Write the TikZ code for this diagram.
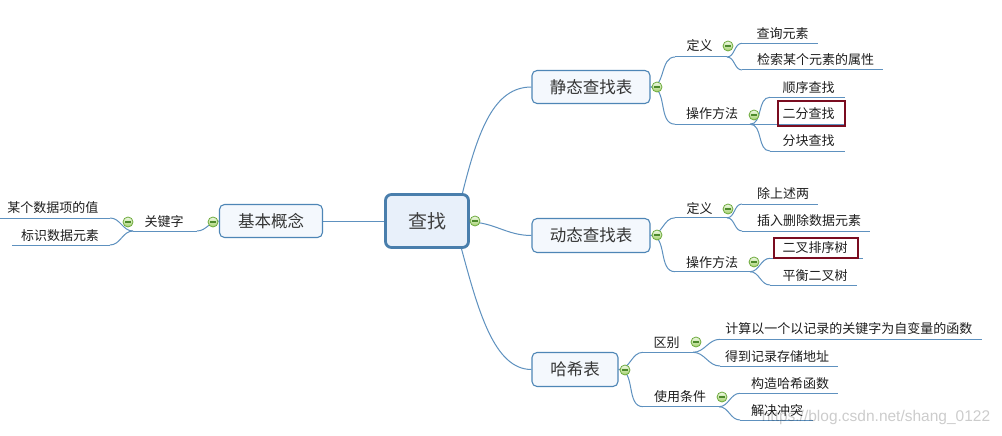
\documentclass[tikz,border=0pt]{standalone}
\usepackage{fontspec}
\setmainfont{Noto Sans CJK SC}
\newfontfamily\wmfont{Liberation Sans}
\usetikzlibrary{backgrounds}
\definecolor{lnc}{HTML}{5E91BF}
\definecolor{bxc}{HTML}{4E86B6}
\definecolor{bxf}{HTML}{F4F8FD}
\definecolor{cbx}{HTML}{497EAC}
\definecolor{cbf}{HTML}{E8F0FA}
\definecolor{grb}{HTML}{6DAA3C}
\definecolor{grt}{HTML}{F0F9E6}
\definecolor{grd}{HTML}{A3D06C}
\definecolor{grm}{HTML}{4D8A2C}
\definecolor{redb}{HTML}{7A0C20}
\definecolor{txt}{HTML}{1E1E1E}
\begin{document}
\begin{tikzpicture}[x=1pt,y=-1pt,
 cline/.style={draw=lnc, line width=1pt},
 tpc/.style={draw=bxc, fill=bxf, line width=1.1pt, rounded corners=5pt, inner sep=0pt, font=\fontsize{16.5}{16.5}\selectfont, text=txt!90},
 ctr/.style={draw=cbx, fill=cbf, line width=2.8pt, rounded corners=6pt, inner sep=0pt, font=\fontsize{19}{19}\selectfont, text=txt!85},
 subt/.style={inner sep=0pt, font=\fontsize{13}{13}\selectfont, text=txt},
 foldc/.style={circle, draw=grb, line width=0.8pt, top color=grt, bottom color=grd, minimum size=10pt, inner sep=0pt, path picture={\draw[grm, line width=1.1pt] ([xshift=-3pt]path picture bounding box.center) -- ([xshift=3pt]path picture bounding box.center);}},
 redframe/.style={draw=redb, line width=1.8pt, inner sep=0pt},
]
\useasboundingbox (0,0) rectangle (1002,436);

% topics
\node[ctr, minimum width=83pt, minimum height=53pt] (find) at (427,221) {查找};
\node[tpc, minimum width=118pt, minimum height=33pt] (static) at (591,87) {静态查找表};
\node[tpc, minimum width=118pt, minimum height=34pt] (dynamic) at (591,235.5) {动态查找表};
\node[tpc, minimum width=86pt, minimum height=34pt] (hash) at (575,369.5) {哈希表};
\node[tpc, minimum width=103pt, minimum height=33pt] (basic) at (271,221) {基本概念};

% left subtopics
\node[subt] (kw) at (164,222) {关键字};
\coordinate (kw_s) at (197,231); \coordinate (kw_e) at (133,231);
\node[subt] (k1) at (53,208) {某个数据项的值};
\coordinate (k1_s) at (110,218); \coordinate (k1_e) at (0,218);
\node[subt] (k2) at (60,236) {标识数据元素};
\coordinate (k2_s) at (110,245); \coordinate (k2_e) at (12,245);

% static subtopics
\node[subt] (sdef) at (699.5,46) {定义};
\coordinate (sdef_s) at (675,57); \coordinate (sdef_e) at (727,57);
\node[subt] (sq1) at (782.5,33.5) {查询元素};
\coordinate (sq1_s) at (742,43.3); \coordinate (sq1_e) at (818,43.3);
\node[subt] (sq2) at (815.5,60) {检索某个元素的属性};
\coordinate (sq2_s) at (742,70); \coordinate (sq2_e) at (883,70);
\node[subt] (sop) at (712,114) {操作方法};
\coordinate (sop_s) at (675,124.2); \coordinate (sop_e) at (750,124.2);
\node[subt] (so1) at (808.5,87.5) {顺序查找};
\coordinate (so1_s) at (770,97.3); \coordinate (so1_e) at (845,97.3);
\node[subt] (so2) at (808.5,114) {二分查找};
\coordinate (so2_s) at (770,124.2); \coordinate (so2_e) at (845,124.2);
\node[subt] (so3) at (808.5,141) {分块查找};
\coordinate (so3_s) at (770,151); \coordinate (so3_e) at (845,151);

% dynamic subtopics
\node[subt] (ddef) at (699.5,208.5) {定义};
\coordinate (ddef_s) at (675,217.8); \coordinate (ddef_e) at (727,217.8);
\node[subt] (dd1) at (783,194) {除上述两};
\coordinate (dd1_s) at (742,204); \coordinate (dd1_e) at (818,204);
\node[subt] (dd2) at (809,221) {插入删除数据元素};
\coordinate (dd2_s) at (742,231); \coordinate (dd2_e) at (870,231);
\node[subt] (dop) at (712,262.5) {操作方法};
\coordinate (dop_s) at (675,271.7); \coordinate (dop_e) at (750,271.7);
\node[subt] (do1) at (815,248) {二叉排序树};
\coordinate (do1_s) at (770,258.3); \coordinate (do1_e) at (863,258.3);
\node[subt] (do2) at (815,276) {平衡二叉树};
\coordinate (do2_s) at (770,285); \coordinate (do2_e) at (857,285);

% hash subtopics
\node[subt] (hdif) at (666.7,342.5) {区别};
\coordinate (hdif_s) at (643,352.3); \coordinate (hdif_e) at (693,352.3);
\node[subt] (hd1) at (848.8,329) {计算以一个以记录的关键字为自变量的函数};
\coordinate (hd1_s) at (720,339.3); \coordinate (hd1_e) at (982,339.3);
\node[subt] (hd2) at (777,356.5) {得到记录存储地址};
\coordinate (hd2_s) at (720,366); \coordinate (hd2_e) at (838,366);
\node[subt] (huse) at (680,396.5) {使用条件};
\coordinate (huse_s) at (643,406.7); \coordinate (huse_e) at (719,406.7);
\node[subt] (hu1) at (790,383.5) {构造哈希函数};
\coordinate (hu1_s) at (740,393.3); \coordinate (hu1_e) at (838,393.3);
\node[subt] (hu2) at (777,411) {解决冲突};
\coordinate (hu2_s) at (740,420); \coordinate (hu2_e) at (813,420);

% connector anchors on central topic
\coordinate (c_up) at (462,195);
\coordinate (c_mid) at (469,222);
\coordinate (c_dn) at (461,247);

\begin{scope}[on background layer]
\fill[white] (0,0) rectangle (1002,436);
% central connectors
\draw[cline] (basic.east) -- (find.west);
\draw[cline] (c_up) .. controls (478,130) and (494,87) .. (static.west);
\draw[cline] (c_mid) to[out=0,in=180] (dynamic.west);
\draw[cline] (c_dn) .. controls (478,310) and (494,369.5) .. (hash.west);
% left
\draw[cline] (basic.west) to[out=180,in=0] (kw_s);
\draw[cline] (kw_s) -- (kw_e);
\draw[cline] (kw_e) to[out=180,in=0] (k1_s);
\draw[cline] (kw_e) to[out=180,in=0] (k2_s);
\draw[cline] (k1_s) -- (k1_e);
\draw[cline] (k2_s) -- (k2_e);
% static
\draw[cline] (static.east) to[out=0,in=180] (sdef_s);
\draw[cline] (static.east) to[out=0,in=180] (sop_s);
\draw[cline] (sdef_s) -- (sdef_e);
\draw[cline] (sop_s) -- (sop_e);
\draw[cline] (sdef_e) to[out=0,in=180] (sq1_s);
\draw[cline] (sdef_e) to[out=0,in=180] (sq2_s);
\draw[cline] (sq1_s) -- (sq1_e);
\draw[cline] (sq2_s) -- (sq2_e);
\draw[cline] (sop_e) to[out=0,in=180] (so1_s);
\draw[cline] (sop_e) -- (so2_s);
\draw[cline] (sop_e) to[out=0,in=180] (so3_s);
\draw[cline] (so1_s) -- (so1_e);
\draw[cline] (so2_s) -- (so2_e);
\draw[cline] (so3_s) -- (so3_e);
% dynamic
\draw[cline] (dynamic.east) to[out=0,in=180] (ddef_s);
\draw[cline] (dynamic.east) to[out=0,in=180] (dop_s);
\draw[cline] (ddef_s) -- (ddef_e);
\draw[cline] (dop_s) -- (dop_e);
\draw[cline] (ddef_e) to[out=0,in=180] (dd1_s);
\draw[cline] (ddef_e) to[out=0,in=180] (dd2_s);
\draw[cline] (dd1_s) -- (dd1_e);
\draw[cline] (dd2_s) -- (dd2_e);
\draw[cline] (dop_e) to[out=0,in=180] (do1_s);
\draw[cline] (dop_e) to[out=0,in=180] (do2_s);
\draw[cline] (do1_s) -- (do1_e);
\draw[cline] (do2_s) -- (do2_e);
% hash
\draw[cline] (hash.east) to[out=0,in=180] (hdif_s);
\draw[cline] (hash.east) to[out=0,in=180] (huse_s);
\draw[cline] (hdif_s) -- (hdif_e);
\draw[cline] (huse_s) -- (huse_e);
\draw[cline] (hdif_e) to[out=0,in=180] (hd1_s);
\draw[cline] (hdif_e) to[out=0,in=180] (hd2_s);
\draw[cline] (hd1_s) -- (hd1_e);
\draw[cline] (hd2_s) -- (hd2_e);
\draw[cline] (huse_e) to[out=0,in=180] (hu1_s);
\draw[cline] (huse_e) to[out=0,in=180] (hu2_s);
\draw[cline] (hu1_s) -- (hu1_e);
\draw[cline] (hu2_s) -- (hu2_e);
\end{scope}

% fold markers
\node[foldc] (f0) at (475,221) {};
\node[foldc] (f1) at (657,87) {};
\node[foldc] (f2) at (657,235) {};
\node[foldc] (f3) at (625,370) {};
\node[foldc] (f4) at (213,222) {};
\node[foldc] (f5) at (128,222) {};
\node[foldc] (f11) at (728,46) {};
\node[foldc] (f12) at (754,115) {};
\node[foldc] (f21) at (728,209) {};
\node[foldc] (f22) at (754,262) {};
\node[foldc] (f31) at (696,342) {};
\node[foldc] (f32) at (722,397) {};

% highlight frames
\node[redframe, minimum width=67.3pt, minimum height=25.3pt] (rb1) at (811.3,113.7) {};
\node[redframe, minimum width=84.3pt, minimum height=20.6pt] (rb2) at (815.8,248) {};

% watermark
\node[font=\wmfont\fontsize{15.5}{15.5}\selectfont, text=black, opacity=0.2, inner sep=0pt] (wm) at (876,417.5) {https://blog.csdn.net/shang\_0122};
\end{tikzpicture}
\end{document}
